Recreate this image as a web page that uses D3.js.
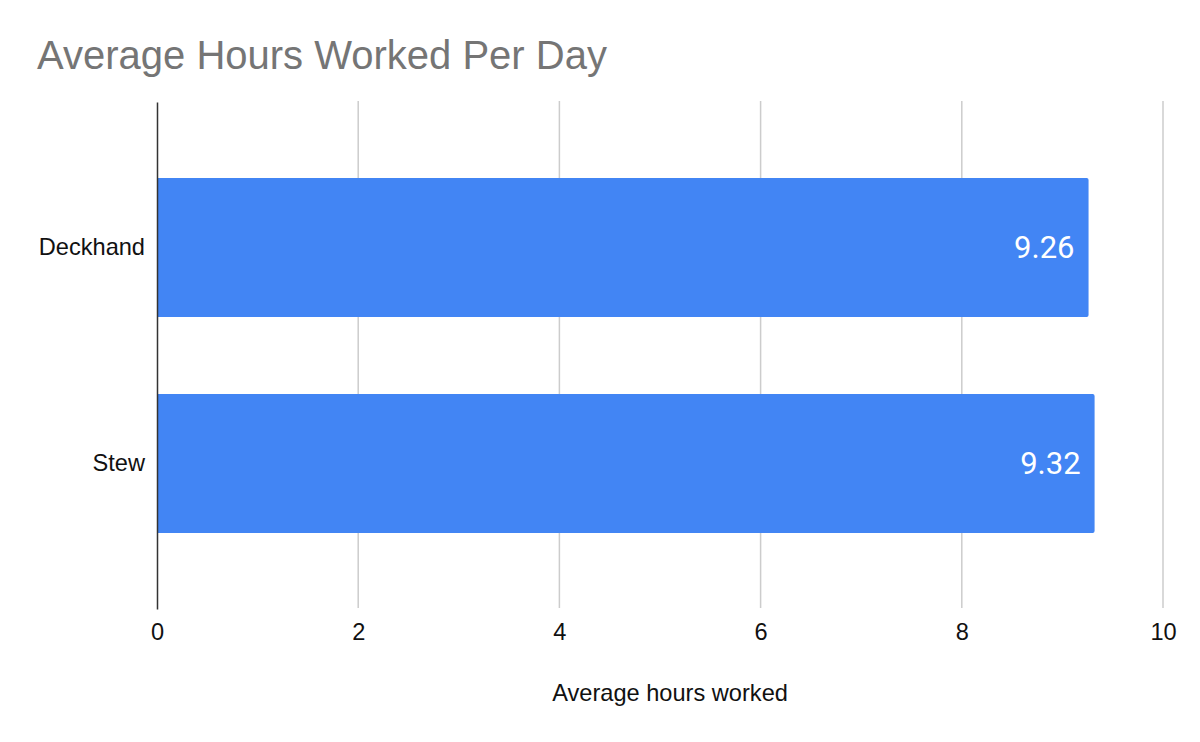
<!DOCTYPE html>
<html>
<head>
<meta charset="utf-8">
<script src="https://cdn.jsdelivr.net/npm/d3@7"></script>
<style>
  body { margin: 0; background: #fff; }
  svg { display: block; }
</style>
</head>
<body>
<svg id="chart" width="1200" height="742"></svg>
<script>
// Donnees du graphique
var categories = ['Deckhand', 'Stew']
var hours = [9.26, 9.32]
var xTicks = [0, 2, 4, 6, 8, 10]

var width = 1200
var height = 742
var margin = { top: 101, right: 37, bottom: 134, left: 157 }
var graphWidth = width - margin.left - margin.right
var graphHeight = height - margin.top - margin.bottom

var svg = d3.select('#chart')

var data = categories.map(function (c, i) { return { name: c, value: hours[i] } })

var xScale = d3.scaleLinear()
  .domain([0, 10])
  .range([0, graphWidth])

var yScale = d3.scaleBand()
  .domain(categories)
  .range([1, graphHeight + 1])
  .paddingInner(0.356)
  .paddingOuter(0.352)

// titre
svg.append('text')
  .attr('x', 37)
  .attr('y', 69)
  .attr('font-family', 'Liberation Sans, Arial, sans-serif')
  .attr('font-size', 40)
  .attr('fill', '#757575')
  .text('Average Hours Worked Per Day')

var graph = svg.append('g')
  .attr('transform', 'translate(' + margin.left + ',' + margin.top + ')')

// grille verticale
graph.append('g')
  .selectAll('line')
  .data(xTicks.slice(1))
  .enter()
  .append('line')
  .attr('x1', function (d) { return xScale(d) })
  .attr('x2', function (d) { return xScale(d) })
  .attr('y1', 0)
  .attr('y2', graphHeight)
  .attr('stroke', '#cccccc')
  .attr('stroke-width', 1.5)

// barres (coins arrondis a droite)
function barPath (d) {
  var x0 = xScale(0)
  var x1 = xScale(d.value)
  var y0 = yScale(d.name)
  var h = yScale.bandwidth()
  var r = 2
  return 'M' + x0 + ',' + y0 +
    'H' + (x1 - r) +
    'Q' + x1 + ',' + y0 + ' ' + x1 + ',' + (y0 + r) +
    'V' + (y0 + h - r) +
    'Q' + x1 + ',' + (y0 + h) + ' ' + (x1 - r) + ',' + (y0 + h) +
    'H' + x0 + 'Z'
}

graph.selectAll('.bar')
  .data(data)
  .enter()
  .append('path')
  .attr('class', 'bar')
  .attr('d', barPath)
  .attr('fill', '#4285f4')

// etiquettes des valeurs
graph.selectAll('.value-label')
  .data(data)
  .enter()
  .append('text')
  .attr('class', 'value-label')
  .attr('x', function (d) { return xScale(d.value) - 14 })
  .attr('y', function (d) { return yScale(d.name) + yScale.bandwidth() / 2 })
  .attr('dy', '0.35em')
  .attr('text-anchor', 'end')
  .attr('font-family', 'Roboto, sans-serif')
  .attr('font-size', 31)
  .attr('fill', '#ffffff')
  .text(function (d) { return d.value.toFixed(2) })

// axe des ordonnees
var yAxis = graph.append('g')
  .call(d3.axisLeft(yScale).tickSize(0).tickPadding(12))
yAxis.select('.domain').attr('stroke', '#333333').attr('stroke-width', 1.5)
yAxis.selectAll('text')
  .attr('font-family', 'Liberation Sans, Arial, sans-serif')
  .attr('font-size', 23.6)
  .attr('fill', '#111111')

// axe des abscisses
var xAxis = graph.append('g')
  .attr('transform', 'translate(0,' + graphHeight + ')')
  .call(d3.axisBottom(xScale).tickValues(xTicks).tickSize(0).tickPadding(15))
xAxis.select('.domain').remove()
xAxis.selectAll('text')
  .attr('font-family', 'Liberation Sans, Arial, sans-serif')
  .attr('font-size', 23.6)
  .attr('fill', '#111111')

// titre de l'axe
svg.append('text')
  .attr('x', margin.left + xScale(5.1))
  .attr('y', 693)
  .attr('dy', '0.35em')
  .attr('text-anchor', 'middle')
  .attr('font-family', 'Liberation Sans, Arial, sans-serif')
  .attr('font-size', 23.6)
  .attr('fill', '#111111')
  .text('Average hours worked')
</script>
</body>
</html>
